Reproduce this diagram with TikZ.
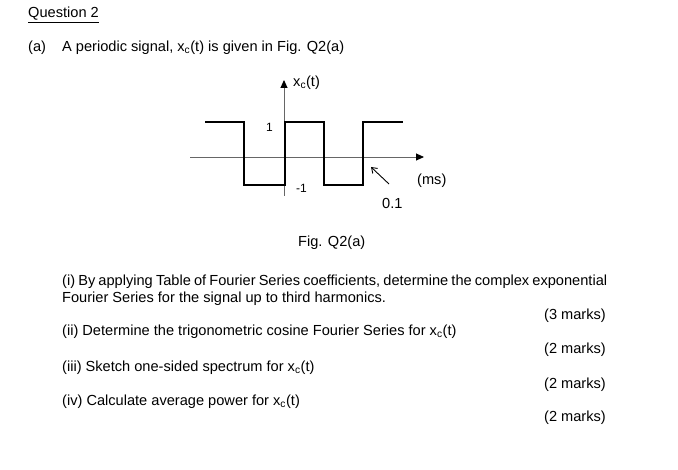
\documentclass[tikz,border=0pt]{standalone}
\usepackage{fontspec}
\setmainfont{Liberation Sans}
\usetikzlibrary{arrows.meta}
\begin{document}
\begin{tikzpicture}[x=1pt,y=-1pt,
  txt/.style={anchor=west,inner sep=0pt,font=\fontsize{14.6}{16.5}\selectfont},
  sig/.style={line width=2.2pt,line join=miter},
  ax/.style={gray!80!black,line width=0.9pt,-{Triangle[length=8pt,width=7pt,black]}}]
\useasboundingbox[fill=white] (0,0) rectangle (678,470);
\node[txt] (q) at (28,15) {\underline{Question 2}};
\node[txt] (a0) at (28,48) {(a)};
\node[txt] (a) at (62,48) {A periodic signal, x$_{\mathrm{c}}$(t) is given in Fig. Q2(a)};
\coordinate (h0) at (190,157); \coordinate (h1) at (424,157);
\coordinate (v0) at (284,196); \coordinate (v1) at (284,80);
\draw[ax] (h0) -- (h1);
\draw[ax] (v0) -- (v1);
\draw[sig] (205,122) -- (244,122) -- (244,185) -- (285,185) -- (285,122) -- (324,122) -- (324,185) -- (363,185) -- (363,122) -- (403,122);
\node[txt] (xl) at (293,83) {x$_{\mathrm{c}}$(t)};
\node[txt,font=\fontsize{12}{14}\selectfont] (one) at (266,127) {1};
\node[txt,font=\fontsize{12}{14}\selectfont] (m1) at (296,188) {-1};
\coordinate (ar0) at (389,184); \coordinate (ar1) at (371,167);
\draw[line width=0.9pt,-{Straight Barb[length=5pt,width=7pt]}] (ar0) -- (ar1);
\node[txt] (p1) at (382,203) {0.1};
\node[txt] (ms) at (417,181) {(ms)};
\node[txt] (fig) at (298,243) {Fig. Q2(a)};
\node[txt,text width=545pt,align=justify] (i) at (62,290) {(i) By applying Table of Fourier Series coefficients, determine the complex exponential Fourier Series for the signal up to third harmonics.};
\node[txt,anchor=east] (m3) at (606,316) {(3 marks)};
\node[txt] (ii) at (62,332) {(ii) Determine the trigonometric cosine Fourier Series for x$_{\mathrm{c}}$(t)};
\node[txt,anchor=east] (m2a) at (606,350) {(2 marks)};
\node[txt] (iii) at (62,368) {(iii) Sketch one-sided spectrum  for x$_{\mathrm{c}}$(t)};
\node[txt,anchor=east] (m2b) at (606,385) {(2 marks)};
\node[txt] (iv) at (62,402) {(iv) Calculate average power for x$_{\mathrm{c}}$(t)};
\node[txt,anchor=east] (m2c) at (606,418) {(2 marks)};
\end{tikzpicture}
\end{document}
